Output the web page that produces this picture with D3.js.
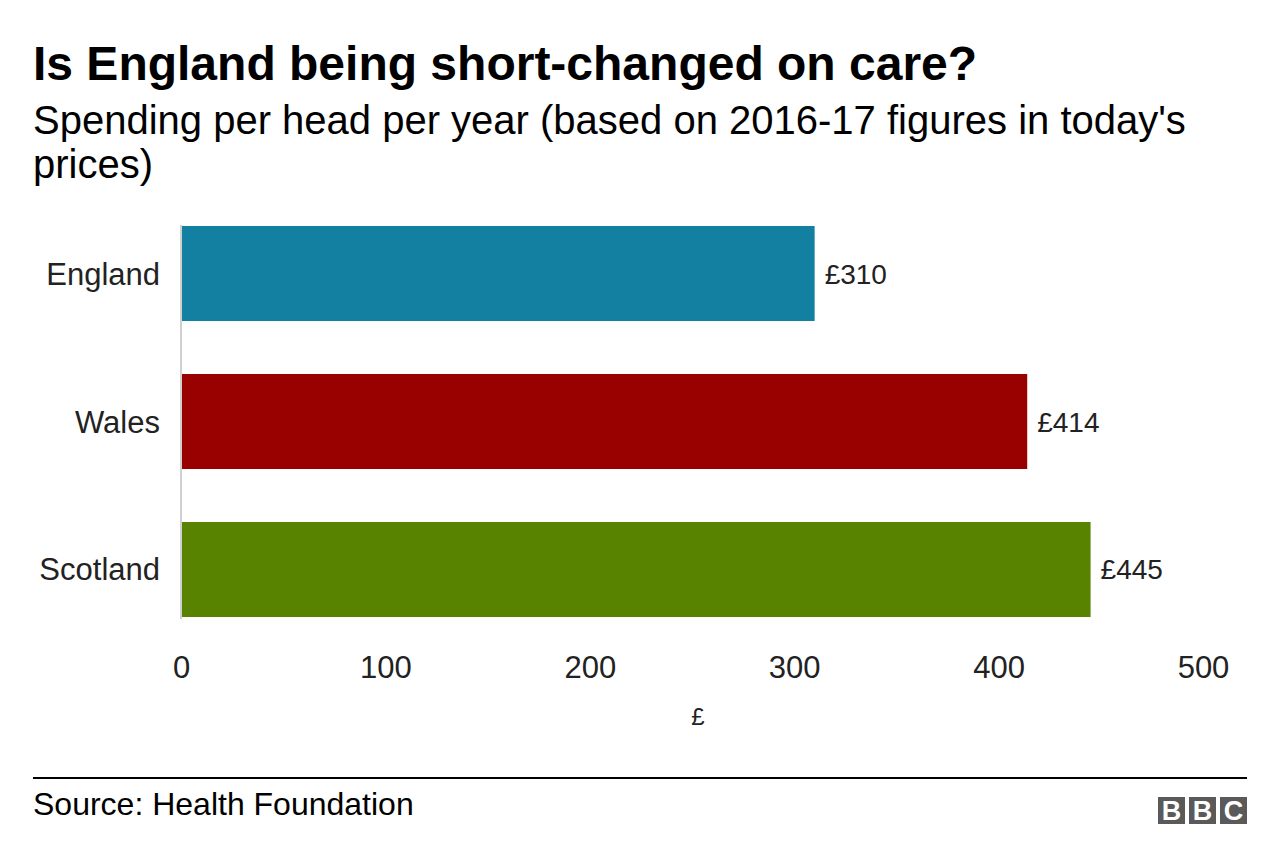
<!DOCTYPE html>
<html>
<head>
<meta charset="utf-8">
<script src="https://cdn.jsdelivr.net/npm/d3@7"></script>
<style>
	body { margin:0; background:#fff; }
	svg text { font-family:"Liberation Sans", Arial, Helvetica, sans-serif; }
</style>
</head>
<body>
<div id="chart"></div>
<script>
var WIDTH = 1280;
var HEIGHT = 866;

// data
var countries = ["England", "Wales", "Scotland"];
var spending = [310, 414, 445];
var barColours = ["#1380a1", "#990000", "#588300"];
var xTicks = [0, 100, 200, 300, 400, 500];

var title = "Is England being short-changed on care?";
var subtitle = "Spending per head per year (based on 2016-17 figures in today's prices)";
var source = "Source: Health Foundation";

var svg = d3.select('#chart').append('svg')
	.attr('width', WIDTH).attr('height', HEIGHT);

svg.append('text').attr('x', 33).attr('y', 80)
	.attr('font-size', 48).attr('font-weight', 'bold').attr('fill', '#000')
	.text(title);

// subtitle wraps to the available width
var sub = svg.append('text').attr('x', 33).attr('y', 134)
	.attr('font-size', 40).attr('fill', '#000');
(function wrap(maxWidth) {
	let words = subtitle.split(' ');
	let line = [];
	let tspan = sub.append('tspan').attr('x', 33).attr('dy', 0);
	for(let i = 0; i < words.length; i++) {
		line.push(words[i]);
		tspan.text(line.join(' '));
		if(tspan.node().getComputedTextLength() > maxWidth && line.length > 1) {
			line.pop();
			tspan.text(line.join(' '));
			line = [words[i]];
			tspan = sub.append('tspan').attr('x', 33).attr('dy', 44).text(words[i]);
		}
	}
})(1214);

// chart area
var x = d3.scaleLinear().domain([0, 500]).range([181, 1203]);
var y = d3.scaleBand().domain(countries).range([226, 617]).paddingInner(0.358).paddingOuter(0);

var rows = countries.map(function(c, i) { return {name:c, value:spending[i], colour:barColours[i]}; });

svg.append('g').selectAll('rect').data(rows).enter().append('rect')
	.attr('x', x(0))
	.attr('y', function(d) { return y(d.name); })
	.attr('width', function(d) { return x(d.value) - x(0); })
	.attr('height', y.bandwidth())
	.attr('fill', function(d) { return d.colour; });

// baseline at zero
svg.append('line')
	.attr('x1', x(0)).attr('x2', x(0))
	.attr('y1', 225).attr('y2', 619)
	.attr('stroke', '#d0d0d0').attr('stroke-width', 2);

// category labels
svg.append('g').selectAll('text').data(rows).enter().append('text')
	.attr('x', 160)
	.attr('y', function(d) { return y(d.name) + y.bandwidth() / 2 + 11; })
	.attr('text-anchor', 'end').attr('font-size', 31).attr('fill', '#222')
	.text(function(d) { return d.name; });

// value labels
svg.append('g').selectAll('text').data(rows).enter().append('text')
	.attr('x', function(d) { return x(d.value) + 10; })
	.attr('y', function(d) { return y(d.name) + y.bandwidth() / 2 + 10; })
	.attr('font-size', 28).attr('fill', '#222')
	.text(function(d) { return '£' + d.value; });

// x axis, no line or ticks
var xAxis = svg.append('g').attr('transform', 'translate(0,' + 646 + ')')
	.call(d3.axisBottom(x).tickValues(xTicks).tickSize(0).tickPadding(0));
xAxis.select('.domain').remove();
xAxis.selectAll('text')
	.attr('font-size', 31).attr('fill', '#222').attr('dy', '1.03em')
	.style('font-family', '"Liberation Sans", Arial, sans-serif');

svg.append('text').attr('x', 698).attr('y', 725)
	.attr('text-anchor', 'middle').attr('font-size', 24).attr('fill', '#222')
	.text('£');

// footer
svg.append('line').attr('x1', 33).attr('x2', 1247).attr('y1', 778).attr('y2', 778)
	.attr('stroke', '#000').attr('stroke-width', 2);
svg.append('text').attr('x', 33).attr('y', 815)
	.attr('font-size', 32).attr('fill', '#000')
	.text(source);

// BBC blocks
var logo = svg.append('g').attr('transform', 'translate(1158,797)');
['B', 'B', 'C'].forEach(function(letter, i) {
	logo.append('rect').attr('x', i * 31).attr('y', 0).attr('width', 27).attr('height', 27)
		.attr('fill', '#5a5a5a');
	logo.append('text').attr('x', i * 31 + 13.5).attr('y', 23)
		.attr('text-anchor', 'middle').attr('font-size', 27).attr('font-weight', 'bold')
		.attr('fill', '#fff').text(letter);
});
</script>
</body>
</html>
